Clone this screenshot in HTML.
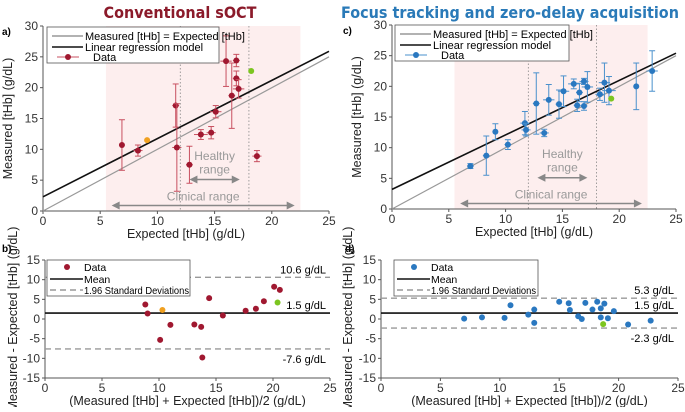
<!DOCTYPE html>
<html><head><meta charset="utf-8"><style>
body{margin:0;background:#fff;font-family:"Liberation Sans",sans-serif;}
svg text{font-family:"Liberation Sans",sans-serif;}
</style></head><body>
<svg id="s" width="685" height="407" xmlns="http://www.w3.org/2000/svg">
<text x="180" y="18" text-anchor="middle" font-size="16" font-weight="bold" fill="#8b1a2a" style="font-family:'DejaVu Sans Condensed','Liberation Sans Narrow',sans-serif">Conventional sOCT</text>
<text x="510" y="18" text-anchor="middle" font-size="16" font-weight="bold" fill="#2a7ab8" style="font-family:'DejaVu Sans Condensed','Liberation Sans Narrow',sans-serif">Focus tracking and zero-delay acquisition</text>
<text x="2" y="35" font-size="10" font-weight="bold">a)</text>
<text x="343" y="34" font-size="10" font-weight="bold">c)</text>
<text x="2" y="252" font-size="10" font-weight="bold">b)</text>
<text x="345" y="252" font-size="10" font-weight="bold">d)</text>
</svg>
<script>
// Panel a data: expected, measured, y error, x error
const aX=[6.9,8.3,11.6,11.7,12.8,13.8,14.7,15.1,16.0,16.5,16.9,16.9,17.1,18.7];
const aY=[10.7,9.8,17.1,10.3,7.5,12.4,12.7,16.1,24.3,18.7,24.4,21.5,19.8,8.9];
const aYE=[4.1,0.9,3.5,7.1,3.0,0.8,1.0,1.0,4.1,5.3,1.0,1.2,1.5,0.9];
const aXE=[0,0.4,0.3,0.4,0.3,0.6,0.4,0.5,0.5,0.3,0.3,0.3,0.5,0.4];
const aSpecial=[[9.1,11.5,'#f0a020'],[18.2,22.7,'#7cc520']];
const aReg=[2.3,25.9];
// Panel c data
const cX=[6.9,8.3,9.1,10.2,11.7,11.8,12.7,13.4,13.8,14.7,15.1,16.0,16.3,16.5,16.9,16.9,17.2,18.3,18.7,19.1,21.5,22.9];
const cY=[7.0,8.7,12.6,10.5,14.0,12.9,17.2,12.4,17.8,17.1,19.2,20.4,16.9,19.0,20.8,16.8,19.9,18.7,20.6,19.3,20.0,22.5];
const cYE=[0.4,3.2,1.3,0.8,1.9,1.0,5.0,0.6,2.5,2.3,2.5,0.8,1.0,1.5,0.5,0.7,2.5,1.0,3.2,2.3,3.8,3.3];
const cXE=[0.3,0.3,0,0.3,0.4,0.4,0.3,0.4,0.5,0.3,0.5,0.5,0.3,0.3,0.4,0.3,0.5,0.4,0.5,0.6,0.2,0.5];
const cSpecial=[[19.3,18.0,'#7cc520']];
const cReg=[3.2,25.4];
// Panel b Bland-Altman
const bX=[8.8,9.0,10.1,11.0,13.1,13.7,13.8,14.4,15.6,17.6,18.5,19.2,20.1,20.6];
const bY=[3.7,1.4,-5.3,-1.5,-1.4,-2.0,-9.8,5.3,0.9,2.1,2.6,4.5,8.2,7.4];
const bSpecial=[[10.3,2.3,'#f0a020'],[20.4,4.2,'#7cc520']];
const bLines=[10.6,1.5,-7.6];
const bLabels=['10.6 g/dL','1.5 g/dL','-7.6 g/dL'];
// Panel d
const dX=[7.0,8.5,10.4,10.9,12.4,12.9,12.9,15.0,15.8,15.9,16.6,16.9,17.2,17.8,18.2,18.5,18.5,18.8,19.1,19.6,20.8,22.7];
const dY=[0.1,0.4,0.3,3.5,1.1,2.4,-1.0,4.4,4.0,2.3,0.7,0.0,4.1,2.4,4.4,2.7,0.4,3.9,0.2,2.0,-1.4,-0.4];
const dSpecial=[[18.7,-1.3,'#7cc520']];
const dLines=[5.3,1.5,-2.3];
const dLabels=['5.3 g/dL','1.5 g/dL','-2.3 g/dL'];
const xTicks=[0,5,10,15,20,25];
const yTicksTop=[0,5,10,15,20,25,30];
const yTicksBot=[-15,-10,-5,0,5,10,15];

const S=document.getElementById('s');const NS='http://www.w3.org/2000/svg';
function mk(tag,at,txt){const e=document.createElementNS(NS,tag);for(const k in at)e.setAttribute(k,at[k]);if(txt!=null)e.textContent=txt;S.appendChild(e);return e;}
function axes(px0,px1,py0,py1,ymin,ymax,yt,xlabel,ylabel,yl_x,name){
  const sx=v=>px0+(v)/25*(px1-px0);const sy=v=>py0-(v-ymin)/(ymax-ymin)*(py0-py1);
  return {sx,sy,draw(){
    let e=mk('line',{x1:px0,y1:py0,x2:px1,y2:py0,stroke:'#555','stroke-width':1});
    
    e=mk('line',{x1:px0,y1:py0,x2:px0,y2:py1,stroke:'#555','stroke-width':1});
    
    xTicks.forEach(t=>{mk('line',{x1:sx(t),x2:sx(t),y1:py0,y2:py0+3,stroke:'#555'});
      e=mk('text',{x:sx(t),y:py0+14,'text-anchor':'middle','font-size':12,fill:'#333'},t);
      });
    yt.forEach(t=>{mk('line',{x1:px0-3,x2:px0,y1:sy(t),y2:sy(t),stroke:'#555'});
      e=mk('text',{x:px0-5,y:sy(t)+4,'text-anchor':'end','font-size':12,fill:'#333'},t);
      });
    e=mk('text',{x:(px0+px1)/2,y:py0+27,'text-anchor':'middle','font-size':12.5,fill:'#222'},xlabel);
    
    const cy=(py0+py1)/2;
    e=mk('text',{x:yl_x,y:cy,'text-anchor':'middle','font-size':12.5,fill:'#222',transform:`rotate(-90 ${yl_x} ${cy})`},ylabel);
    
  }};
}
function scatterPanel(name,ax,X,Y,YE,XE,special,reg,col,legend){
  const {sx,sy}=ax;
  let e=mk('rect',{x:sx(5.5),y:sy(30),width:sx(22.5)-sx(5.5),height:sy(0)-sy(30),fill:'#fdeeee'});
  
  [12,18].forEach(v=>{e=mk('line',{x1:sx(v),x2:sx(v),y1:sy(30),y2:sy(0),stroke:'#888','stroke-dasharray':'1.5,2','stroke-width':0.8});
    });
  ax.draw();
  // arrows
  function arrow(a,b,y,nm){const g=mk('g',{});
    mk('line',{x1:sx(a)+4,x2:sx(b)-4,y1:sy(y),y2:sy(y),stroke:'#888','stroke-width':1.5});
    mk('path',{d:`M${sx(a)},${sy(y)} l8,-4 l0,8z M${sx(b)},${sy(y)} l-8,-4 l0,8z`,fill:'#888'});}
  arrow(12.8,17.2,5.1,name+'-healthy-arrow');arrow(6,22,0.9,name+'-clinical-arrow');
  e=mk('text',{x:sx(15),y:sy(8.3),'text-anchor':'middle','font-size':12,fill:'#999'},'Healthy');
  
  e=mk('text',{x:sx(15),y:sy(6.1),'text-anchor':'middle','font-size':12,fill:'#999'},'range');
  
  e=mk('text',{x:sx(14),y:sy(1.7),'text-anchor':'middle','font-size':12,fill:'#999'},'Clinical range');
  
  e=mk('line',{x1:sx(0),y1:sy(0),x2:sx(25),y2:sy(25),stroke:'#999','stroke-width':1.2});
  
  e=mk('line',{x1:sx(0),y1:sy(reg[0]),x2:sx(25),y2:sy(reg[1]),stroke:'#111','stroke-width':1.6});
  
  const ec=col==='red'?'#c85060':'#4a90cc', pc=col==='red'?'#a01830':'#2a78c0';
  X.forEach((x,i)=>{const g=mk('g',{});
    const y=Y[i];
    if(YE[i]>0){const el=(a)=>{const n=document.createElementNS(NS,'line');for(const k in a)n.setAttribute(k,a[k]);g.appendChild(n);};
      el({x1:sx(x),x2:sx(x),y1:sy(y-YE[i]),y2:sy(y+YE[i]),stroke:ec,'stroke-width':1});
      el({x1:sx(x)-3,x2:sx(x)+3,y1:sy(y-YE[i]),y2:sy(y-YE[i]),stroke:ec});
      el({x1:sx(x)-3,x2:sx(x)+3,y1:sy(y+YE[i]),y2:sy(y+YE[i]),stroke:ec});}
    if(XE[i]>0){const a={x1:sx(x-XE[i]),x2:sx(x+XE[i]),y1:sy(y),y2:sy(y),stroke:ec};const n=document.createElementNS(NS,'line');for(const k in a)n.setAttribute(k,a[k]);g.appendChild(n);}
    const c=document.createElementNS(NS,'circle');c.setAttribute('cx',sx(x));c.setAttribute('cy',sy(y));c.setAttribute('r',3);c.setAttribute('fill',pc);g.appendChild(c);});
  special.forEach(p=>{e=mk('circle',{cx:sx(p[0]),cy:sy(p[1]),r:3,fill:p[2]});
    });
  // legend
  const [lx,ly,lw]=legend;
  const g=mk('g',{});
  mk('rect',{x:lx,y:ly,width:lw,height:36,fill:'#fff',stroke:'#555','stroke-width':0.8});
  mk('line',{x1:lx+5,x2:lx+36,y1:ly+9,y2:ly+9,stroke:'#999','stroke-width':1.5});
  mk('text',{x:lx+38,y:ly+13,'font-size':11},'Measured [tHb] = Expected [tHb]');
  mk('line',{x1:lx+5,x2:lx+36,y1:ly+20,y2:ly+20,stroke:'#111','stroke-width':1.6});
  mk('text',{x:lx+38,y:ly+24,'font-size':11},'Linear regression model');
  mk('line',{x1:lx+10,x2:lx+32,y1:ly+30,y2:ly+30,stroke:ec});
  mk('circle',{cx:lx+21,cy:ly+30,r:3,fill:pc});
  mk('text',{x:lx+46,y:ly+34,'font-size':11},'Data');
}
function baPanel(name,ax,X,Y,special,lines,labels,col,legend){
  const {sx,sy}=ax;ax.draw();
  const pc=col==='red'?'#a01830':'#2a78c0';
  lines.forEach((v,i)=>{let e=mk('line',{x1:sx(0),x2:sx(25),y1:sy(v),y2:sy(v),stroke:i==1?'#111':'#999','stroke-width':i==1?1.6:1.4,'stroke-dasharray':i==1?'':'6,4'});
    
    e=mk('text',{x:sx(25)-4,y:i==2?sy(v)+14:sy(v)-4,'text-anchor':'end','font-size':11},labels[i]);
    });
  X.forEach((x,i)=>{const e=mk('circle',{cx:sx(x),cy:sy(Y[i]),r:3,fill:pc});
    });
  special.forEach(p=>{const e=mk('circle',{cx:sx(p[0]),cy:sy(p[1]),r:3,fill:p[2]});
    });
  const [lx,ly,lw]=legend;
  const g=mk('g',{});
  mk('rect',{x:lx,y:ly,width:lw,height:36,fill:'#fff',stroke:'#555','stroke-width':0.8});
  mk('circle',{cx:lx+20,cy:ly+7,r:3,fill:pc});mk('text',{x:lx+37,y:ly+11,'font-size':10.5},'Data');
  mk('line',{x1:lx+3,x2:lx+36,y1:ly+19,y2:ly+19,stroke:'#111','stroke-width':1.5});mk('text',{x:lx+37,y:ly+23,'font-size':10.5},'Mean');
  mk('line',{x1:lx+3,x2:lx+36,y1:ly+30,y2:ly+30,stroke:'#999','stroke-width':1.4,'stroke-dasharray':'6,4'});
  mk('text',{x:lx+37,y:ly+34,'font-size':10.5,'textLength':105,'lengthAdjust':'spacingAndGlyphs'},'1.96 Standard Deviations');
}
const axA=axes(43,329,211,26,0,30,yTicksTop,'Expected [tHb] (g/dL)','Measured [tHb] (g/dL)',12,'panel-a');
scatterPanel('panel-a',axA,aX,aY,aYE,aXE,aSpecial,aReg,'red',[47,27,172]);
const axC=axes(392,676,209,25,0,30,yTicksTop,'Expected [tHb] (g/dL)','Measured [tHb] (g/dL)',361,'panel-c');
scatterPanel('panel-c',axC,cX,cY,cYE,cXE,cSpecial,cReg,'blue',[395,25,174]);
const axB=axes(45,330,378,260,-15,15,yTicksBot,'(Measured [tHb] + Expected [tHb])/2 (g/dL)','Measured - Expected [tHb] (g/dL)',17,'panel-b');
baPanel('panel-b',axB,bX,bY,bSpecial,bLines,bLabels,'red',[47,260,143]);
const axD=axes(381,678,378,260,-15,15,yTicksBot,'(Measured [tHb] + Expected [tHb])/2 (g/dL)','Measured - Expected [tHb] (g/dL)',352,'panel-d');
baPanel('panel-d',axD,dX,dY,dSpecial,dLines,dLabels,'blue',[394,260,144]);
</script>
</body></html>
